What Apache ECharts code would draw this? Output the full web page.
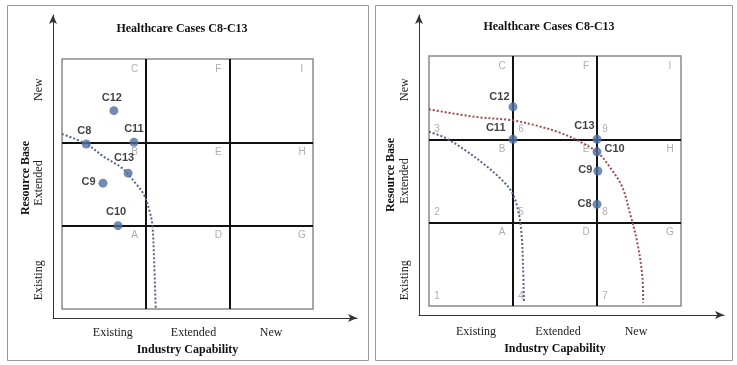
<!DOCTYPE html>
<html>
<head>
<meta charset="utf-8">
<script src="https://cdn.jsdelivr.net/npm/echarts@6/dist/echarts.min.js"></script>
<style>html,body{margin:0;padding:0;background:#fff;}#c{width:737px;height:365px;}</style>
</head>
<body>
<div id="c"></div>
<script>
// ---------- data ----------
const titleText = 'Healthcare Cases C8-C13';
const xCats = ['Existing', 'Extended', 'New'];
const yCats = ['Existing', 'Extended', 'New'];
const xName = 'Industry Capability';
const yName = 'Resource Base';

const caseNames = ['C8', 'C9', 'C10', 'C11', 'C12', 'C13'];
const leftX = [0.29, 0.49, 0.67, 0.86, 0.62, 0.79];
const leftY = [1.98, 1.51, 1.00, 2.00, 2.38, 1.63];
const rightX = [2.00, 2.01, 2.00, 1.00, 1.00, 2.00];
const rightY = [1.22, 1.62, 1.85, 2.00, 2.39, 2.00];

// frontier curves
const leftCurveX = [0.00, 0.29, 0.51, 0.72, 0.87, 0.98, 1.05, 1.08, 1.10, 1.12];
const leftCurveY = [2.10, 1.98, 1.82, 1.69, 1.52, 1.37, 1.16, 1.01, 0.61, 0.01];
const rightBlueX = [0.00, 0.19, 0.43, 0.67, 0.87, 0.99, 1.06, 1.10, 1.12, 1.13];
const rightBlueY = [2.09, 2.02, 1.87, 1.69, 1.51, 1.36, 1.15, 0.88, 0.47, 0.04];
const rightRedX = [0.00, 0.55, 0.98, 1.26, 1.56, 1.80, 2.01, 2.15, 2.30, 2.39, 2.48, 2.54, 2.55];
const rightRedY = [2.36, 2.27, 2.23, 2.17, 2.08, 1.97, 1.84, 1.67, 1.43, 1.12, 0.76, 0.35, 0.04];

// cell letters (anchored at top-right corner of each cell)
const letters = ['A', 'B', 'C', 'D', 'E', 'F', 'G', 'H', 'I'];
const letterX = [1, 1, 1, 2, 2, 2, 3, 3, 3];
const letterY = [1, 2, 3, 1, 2, 3, 1, 2, 3];
// intersection numbers (right panel)
const numbers = ['1', '2', '3', '4', '5', '6', '7', '8', '9'];
const numberX = [0, 0, 0, 1, 1, 1, 2, 2, 2];
const numberY = [0, 1, 2, 0, 1, 2, 0, 1, 2];

// ---------- styles (kept separate) ----------
const leftLabelPos = {
  C8: {position: 'top', offset: [-2, 0]}, C9: {position: 'left', offset: [0, -1]},
  C10: {position: 'top', offset: [-2, -1]}, C11: {position: 'top', offset: [0, 0]},
  C12: {position: 'top', offset: [-2, 0]}, C13: {position: 'top', offset: [-4, -2]}
};
const rightLabelPos = {
  C8: {position: 'left', offset: [2, 0]}, C9: {position: 'left', offset: [2, -1]},
  C10: {position: 'right', offset: [0, -3]}, C11: {position: 'left', offset: [0, -11]},
  C12: {position: 'left', offset: [4, -10]}, C13: {position: 'left', offset: [5, -13]}
};
// label paddings to nudge tick labels off the cell centres
const xPadLeft = [[0, 0, 0, 18], [0, 0, 0, 12], [0, 0, 0, 0]];
const xPadRight = [[0, 0, 0, 10], [0, 0, 0, 6], [0, 6, 0, 0]];
const yPadLeft = [[0, 26, 0, 0], [0, 0, 0, 2], [0, 0, 0, 22]];
const yPadRight = [[0, 32, 0, 0], [0, 0, 0, 0], [0, 0, 0, 16]];

const serif = '"Liberation Serif", "DejaVu Serif", serif';
const sans = '"Liberation Sans", Roboto, sans-serif';

const panels = [
  {box: {left: 62, top: 59, width: 251, height: 250}, arrow: {left: 53, top: 15, width: 304, height: 303},
   title: [177, 18], labelMargin: 18, nameGapX: 33, yMargin: 17, nameGapY: 30, xPad: xPadLeft, yPad: yPadLeft},
  {box: {left: 429, top: 56, width: 252, height: 250}, arrow: {left: 419, top: 15, width: 305, height: 300},
   title: [544, 16], labelMargin: 20, nameGapX: 34, yMargin: 18, nameGapY: 32, xPad: xPadRight, yPad: yPadRight}
];

const grids = [], xAxes = [], yAxes = [], series = [], titles = [];

panels.forEach((p, pi) => {
  const gBox = grids.length;
  grids.push(Object.assign({show: true, borderColor: '#8a8a8a', borderWidth: 1.5, backgroundColor: 'transparent'}, p.box));
  const gArr = grids.length;
  grids.push(Object.assign({show: false}, p.arrow));

  const valAxis = () => ({
    type: 'value', gridIndex: gBox, min: 0, max: 3, interval: 1,
    axisLine: {show: false}, axisTick: {show: false}, axisLabel: {show: false},
    splitLine: {show: true, showMinLine: false, showMaxLine: false, lineStyle: {color: '#111', width: 2}}
  });
  const xv = xAxes.length; xAxes.push(valAxis());
  const yv = yAxes.length; yAxes.push(valAxis());

  xAxes.push({
    type: 'category', gridIndex: gBox, position: 'bottom', boundaryGap: true,
    data: xCats.map((c, i) => ({value: c, textStyle: {padding: p.xPad[i]}})),
    axisLine: {show: false}, axisTick: {show: false}, splitLine: {show: false},
    axisLabel: {margin: p.labelMargin, fontFamily: serif, fontSize: 12, color: '#222'},
    name: xName, nameLocation: 'middle', nameGap: p.nameGapX,
    nameTextStyle: {fontFamily: serif, fontSize: 12, fontWeight: 'bold', color: '#111'}
  });
  yAxes.push({
    type: 'category', gridIndex: gBox, position: 'left', boundaryGap: true,
    data: yCats.map((c, i) => ({value: c, textStyle: {padding: p.yPad[i]}})),
    axisLine: {show: false}, axisTick: {show: false}, splitLine: {show: false},
    axisLabel: {margin: p.yMargin, rotate: 90, fontFamily: serif, fontSize: 12, color: '#222'},
    name: yName, nameLocation: 'middle', nameGap: p.nameGapY,
    nameTextStyle: {fontFamily: serif, fontSize: 12, fontWeight: 'bold', color: '#111', padding: [0, 0, 0, 12]}
  });

  const arrowLine = {show: true, symbol: ['none', 'arrow'], symbolSize: [6, 9], lineStyle: {color: '#333', width: 1}};
  xAxes.push({type: 'value', gridIndex: gArr, min: 0, max: 1, axisLine: arrowLine,
    axisTick: {show: false}, axisLabel: {show: false}, splitLine: {show: false}});
  yAxes.push({type: 'value', gridIndex: gArr, min: 0, max: 1, axisLine: arrowLine,
    axisTick: {show: false}, axisLabel: {show: false}, splitLine: {show: false}});

  titles.push({text: titleText, left: p.title[0], top: p.title[1], textAlign: 'center',
    textStyle: {fontFamily: serif, fontSize: 12, fontWeight: 'bold', color: '#111'}});

  const curve = (xs, ys, color) => ({
    type: 'line', xAxisIndex: xv, yAxisIndex: yv, smooth: 0.35, showSymbol: false, silent: true, z: 3,
    data: xs.map((x, i) => [x, ys[i]]),
    lineStyle: {color: color, width: 2, type: [2, 2]}
  });
  if (pi === 0) {
    series.push(curve(leftCurveX, leftCurveY, '#56668a'));
  } else {
    series.push(curve(rightBlueX, rightBlueY, '#56668a'));
    series.push(curve(rightRedX, rightRedY, '#a04a4a'));
  }

  // cell letters
  series.push({
    type: 'scatter', xAxisIndex: xv, yAxisIndex: yv, symbolSize: 1, silent: true, z: 2,
    itemStyle: {color: 'transparent'},
    data: letters.map((t, i) => ({value: [letterX[i], letterY[i]], name: t})),
    label: {show: true, position: 'inside', offset: [-11, 10], formatter: '{b}',
      fontFamily: sans, fontSize: 10, color: '#9a9a9a'}
  });
  if (pi === 1) {
    series.push({
      type: 'scatter', xAxisIndex: xv, yAxisIndex: yv, symbolSize: 1, silent: true, z: 2,
      itemStyle: {color: 'transparent'},
      data: numbers.map((t, i) => ({value: [numberX[i], numberY[i]], name: t})),
      label: {show: true, position: 'inside', offset: [8, -10], formatter: '{b}',
        fontFamily: sans, fontSize: 10, color: '#9a9a9a'}
    });
  }

  const xs = pi === 0 ? leftX : rightX;
  const ys = pi === 0 ? leftY : rightY;
  const lp = pi === 0 ? leftLabelPos : rightLabelPos;
  series.push({
    type: 'scatter', xAxisIndex: xv, yAxisIndex: yv, symbolSize: 9, z: 5,
    itemStyle: {color: '#4f6e9f'},
    data: caseNames.map((n, i) => ({
      value: [xs[i], ys[i]], name: n,
      label: {position: lp[n].position, offset: lp[n].offset}
    })),
    label: {show: true, formatter: '{b}', distance: 3, fontFamily: sans, fontSize: 11, fontWeight: 'bold', color: '#111'}
  });
});

const chart = echarts.init(document.getElementById('c'), null, {renderer: 'canvas'});
chart.setOption({
  animation: false,
  backgroundColor: '#fff',
  title: titles,
  grid: grids,
  xAxis: xAxes,
  yAxis: yAxes,
  series: series,
  graphic: [
    {type: 'rect', shape: {x: 7.5, y: 5.5, width: 361, height: 355}, style: {fill: 'none', stroke: '#9a9a9a', lineWidth: 1}, silent: true},
    {type: 'rect', shape: {x: 375.5, y: 5.5, width: 357, height: 355}, style: {fill: 'none', stroke: '#9a9a9a', lineWidth: 1}, silent: true}
  ]
});
</script>
</body>
</html>
